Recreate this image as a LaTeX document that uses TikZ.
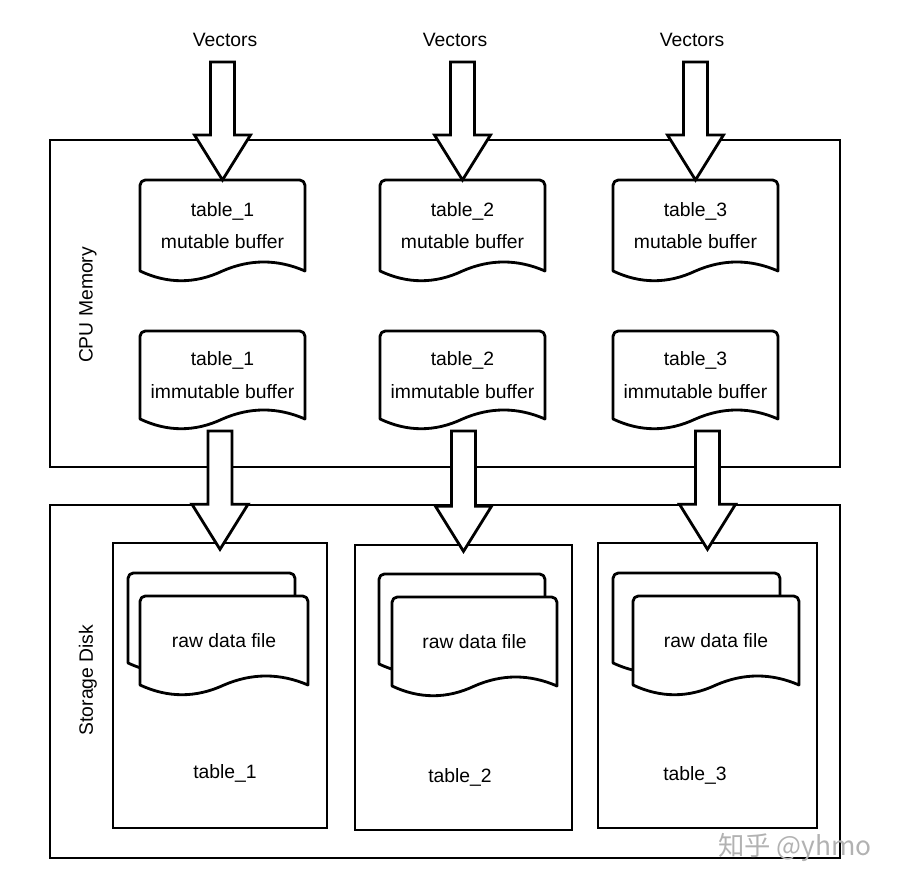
\documentclass[tikz,border=0pt]{standalone}
\usepackage{fontspec}
\setmainfont{Liberation Sans}
\newfontfamily\cjkfont{Noto Sans CJK SC}
\usetikzlibrary{calc}

\pgfdeclarelayer{background}
\pgfsetlayers{background,main}

\tikzset{
  box/.style={draw, line width=0.8pt},
  doc/.style={minimum width=3.3cm, inner sep=0pt, outer sep=0pt, align=center, font=\fontsize{11}{18.5}\selectfont},
  docline/.style={draw, fill=white, line width=1.6pt, line join=round},
  bigarrow/.style={draw, fill=white, line width=1.6pt, line join=miter},
  lbl/.style={font=\fontsize{11}{13}\selectfont},
}

% document outline round a node: rounded top, wavy bottom
\newcommand\docshape[1]{%
  \begin{pgfonlayer}{background}
  \path[docline] (#1.south west) [rounded corners=3pt] -- (#1.north west) -- (#1.north east) [sharp corners] -- (#1.south east)
    .. controls ($(#1.south east)!1/6!(#1.south west)+(0,-12)$) and ($(#1.south east)!1/3!(#1.south west)+(0,-12)$) .. ($(#1.south east)!1/2!(#1.south west)$)
    .. controls ($(#1.south east)!2/3!(#1.south west)+(0,13)$) and ($(#1.south east)!5/6!(#1.south west)+(0,13)$) .. (#1.south west) -- cycle;
  \end{pgfonlayer}}

% hollow block arrow, straight down to #2
\newcommand\blockarrow[2]{%
  \coordinate (tail) at (#1 -| #2);
  \path[bigarrow] ($(tail)+(-12,0)$) -- ($(#2)+(-12,-45)$) -- ($(#2)+(-28,-45)$) -- (#2)
    -- ($(#2)+(28,-45)$) -- ($(#2)+(12,-45)$) -- ($(tail)+(12,0)$) -- cycle;}

\begin{document}
\begin{tikzpicture}[x=0.02cm, y=-0.02cm]
  \useasboundingbox (0,0) rectangle (900,888);

  % containers
  \draw[box] (50,140) rectangle (840,467);
  \draw[box] (50,505) rectangle (840,858);
  \node[lbl, rotate=90] (memlbl) at (88,305) {CPU Memory};
  \node[lbl, rotate=90] (disklbl) at (88,680) {Storage Disk};

  % inputs
  \node[lbl, outer ysep=5.4pt] (vec1) at (225,40) {Vectors};
  \node[lbl, outer ysep=5.4pt] (vec2) at (455,40) {Vectors};
  \node[lbl, outer ysep=5.4pt] (vec3) at (692,40) {Vectors};

  % buffers in memory
  \node[doc, minimum height=1.82cm] (mut1) at (222.5,225.5) {table\_1\\mutable buffer};
  \node[doc, minimum height=1.82cm] (mut2) at (462.5,225.5) {table\_2\\mutable buffer};
  \node[doc, minimum height=1.82cm] (mut3) at (695.5,225.5) {table\_3\\mutable buffer};
  \node[doc, minimum height=1.76cm] (imm1) at (222.5,375) {table\_1\\immutable buffer};
  \node[doc, minimum height=1.76cm] (imm2) at (462.5,375) {table\_2\\immutable buffer};
  \node[doc, minimum height=1.76cm] (imm3) at (695.5,375) {table\_3\\immutable buffer};
  \foreach \n in {mut1,mut2,mut3,imm1,imm2,imm3} {\docshape{\n}}

  % tables on disk
  \node[box, minimum width=4.28cm, minimum height=5.7cm] (disk1) at (220,685.5) {};
  \node[box, minimum width=4.34cm, minimum height=5.7cm] (disk2) at (463.5,687.5) {};
  \node[box, minimum width=4.38cm, minimum height=5.7cm] (disk3) at (707.5,685.5) {};
  \node[lbl] (tab1) at (225,773) {table\_1};
  \node[lbl] (tab2) at (460,777) {table\_2};
  \node[lbl] (tab3) at (695,775) {table\_3};

  \node[doc, minimum width=3.34cm, minimum height=1.8cm] (back1) at (211.5,618) {};
  \node[doc, minimum width=3.32cm, minimum height=1.8cm] (back2) at (462,619) {};
  \node[doc, minimum width=3.34cm, minimum height=1.8cm] (back3) at (696.5,618) {};
  \node[doc, minimum width=3.36cm, minimum height=1.78cm] (raw1) at (224,640.5) {raw data file};
  \node[doc, minimum width=3.3cm, minimum height=1.78cm] (raw2) at (474.5,641.5) {raw data file};
  \node[doc, minimum width=3.32cm, minimum height=1.78cm] (raw3) at (716,640.5) {raw data file};
  \foreach \n in {back1,raw1,back2,raw2,back3,raw3} {\docshape{\n}}

  % flows
  \blockarrow{vec1.south}{mut1.north}
  \blockarrow{vec2.south}{mut2.north}
  \blockarrow{vec3.south}{mut3.north}
  \foreach \i in {1,2,3} {
    \coordinate (out\i) at ($(imm\i.south)+(0,12)$);
    \coordinate (tip\i) at ($(disk\i.north)+(0,7)$);
    \blockarrow{out\i}{tip\i}
  }

  \node[font=\cjkfont\fontsize{15}{15}\selectfont, text=black!30] (mark) at (795,848) {知乎 @yhmo};
\end{tikzpicture}
\end{document}
